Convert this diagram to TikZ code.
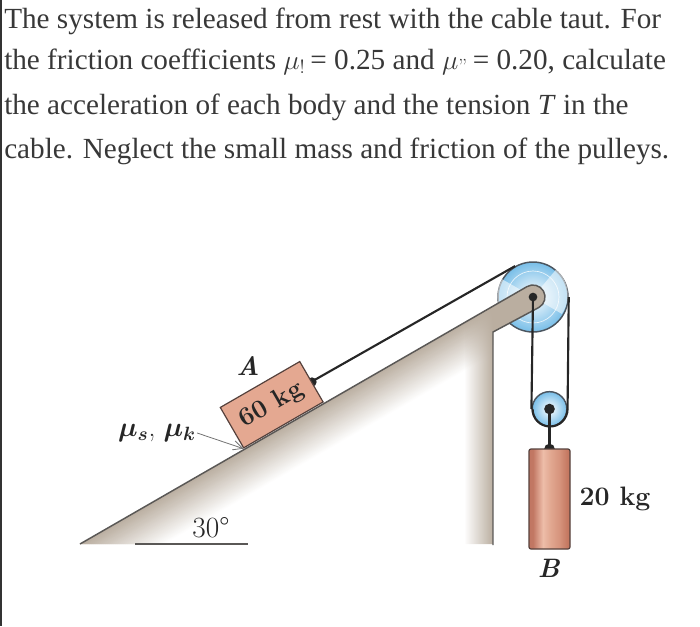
\documentclass[tikz,border=0pt]{standalone}
\usepackage{fontspec}
\usetikzlibrary{arrows.meta, fadings}
\newfontfamily\probfont{Liberation Serif}
\definecolor{taupe}{RGB}{186,174,160}
\definecolor{edgegray}{RGB}{90,88,86}
\definecolor{rimgray}{RGB}{75,85,95}
\definecolor{pulleyblue}{RGB}{120,190,232}
\definecolor{blockfill}{RGB}{228,168,145}
\definecolor{blockedge}{RGB}{85,65,60}
\pgfdeclarehorizontalshading{coppershade}{100bp}{
  rgb(0bp)=(0.72,0.42,0.35); rgb(30bp)=(0.76,0.47,0.39); rgb(42bp)=(0.93,0.74,0.66);
  rgb(52bp)=(0.88,0.65,0.56); rgb(62bp)=(0.84,0.58,0.49); rgb(72bp)=(0.77,0.47,0.38); rgb(100bp)=(0.72,0.42,0.35)}
\tikzset{
  probline/.style={anchor=base west,inner sep=0pt,font=\probfont\fontsize{21.9}{26}\selectfont,text=black!78},
  figlabel/.style={inner sep=0.75pt,font=\fontsize{20}{24}\selectfont\bfseries,text=black!85},
  cable/.style={line width=1.6pt,black!85},
  pulley/.style={circle,draw=rimgray,line width=1.1pt,inner sep=0pt,inner color=white,outer color=pulleyblue},
  hub/.style={circle,fill=black!85,inner sep=0pt},
  sheen/.style={fill=white,opacity=0.55},
}
\begin{document}
\begin{tikzpicture}[x=0.75pt,y=0.75pt,yscale=-1,xscale=1]
\useasboundingbox (0,0) rectangle (700,626);

%Straight Lines: page edge
\draw [line width=1.3pt,black!80] (0.8,0) -- (0.8,626);

% Text Node
\node [probline] (lineone) at (4,28) {The system is released from rest with the cable taut. For};
\node [probline] (linetwo) at (4,69) {the friction coefficients $\mu_{!}$\,= 0.25 and $\mu_{"}$\,= 0.20, calculate};
\node [probline] (linethree) at (4,114) {the acceleration of each body and the tension \textit{T} in the};
\node [probline] (linefour) at (4,158) {cable. Neglect the small mass and friction of the pulleys.};

%Shape: Pulleys
\node [pulley,minimum size=52.5pt] (bigpulley) at (533,297) {};
\fill [sheen] (bigpulley.center) -- (bigpulley.50) arc [start angle=-50,end angle=35,radius=33] -- cycle;
\fill [sheen] (bigpulley.center) -- (bigpulley.150) arc [start angle=-150,end angle=-205,radius=33] -- cycle;
\node [circle,draw=white,line width=0.5pt,opacity=0.8,minimum size=39pt,inner sep=0pt] (bigring) at (533,297) {};
\node [pulley,minimum size=26pt] (smallpulley) at (549.5,409) {};

%Shape: Incline and post
\begin{scope}
\clip (80,544) -- (527,286.6) arc [start angle=-120,end angle=60,radius=12] -- (493,332) -- (493,544) -- cycle;
\begin{scope}[rotate around={-30:(80,544)}]
\foreach \d in {0,...,42} {
  \pgfmathtruncatemacro{\pct}{100-\d*100/42}
  \fill [taupe!\pct!white] (60,544+\d) rectangle (640,546+\d);
}
\end{scope}
\fill [taupe,path fading=west] (464,270) rectangle (493,545);
\fill [taupe] (493,270) rectangle (550,345);
\end{scope}
\draw [line width=1.1pt,edgegray] (80,544) -- (527,286.6) arc [start angle=-120,end angle=60,radius=12] -- (493,332) -- (493,545);

%Shape: Blocks
\node [hub,minimum size=7pt] (knobA) at (312,382) {};
\node [hub,minimum size=8pt] (knobB) at (549.5,449) {};
\node [draw=blockedge,line width=0.9pt,fill=blockfill,rotate=30,minimum width=68.8pt,minimum height=35pt,inner sep=0pt,font=\fontsize{19.5}{24}\selectfont\bfseries,text=black!85] (blockA) at (271.7,404.7) {60 kg};
\node [draw=blockedge,line width=0.9pt,shading=coppershade,rounded corners=1.5pt,minimum width=30.75pt,minimum height=75pt,inner sep=0pt] (blockB) at (549.5,499) {};

% Cable
\draw [cable] (blockA.east) -- (bigpulley.120);
\draw [cable] (bigpulley.east) -- (smallpulley.east);
\draw [cable] (smallpulley.east) arc [start angle=0,end angle=180,radius=17.5];
\draw [cable] (smallpulley.west) -- (bigpulley.center);
\draw [cable] (smallpulley.center) -- (blockB.north);

% Hubs
\node [hub,minimum size=6.5pt] (bighub) at (bigpulley.center) {};
\node [hub,minimum size=8pt] (smallhub) at (smallpulley.center) {};

% Text Node
\node [figlabel] (lblA) at (248,366) {\textit{A}};
\node [figlabel] (lblB) at (549,568) {\textit{B}};
\node [figlabel,font=\fontsize{20.5}{24}\selectfont\boldmath] (lblmu) at (157,433) {$\mu_{s}$, $\mu_{k}$};
\node [figlabel,font=\fontsize{22}{25}\selectfont] (lblangle) at (211,528) {30°};
\node [figlabel] (lblmass) at (615,499) {20 kg};

% Leader and angle base
\draw [-{Straight Barb[length=7pt,width=7pt]},line width=0.6pt,black!55] (lblmu.east) -- (blockA.south west);
\coordinate (baseL) at (135,544);
\coordinate (baseR) at (248,544);
\draw [line width=1.1pt,edgegray] (baseL) -- (baseR);
\end{tikzpicture}
\end{document}
